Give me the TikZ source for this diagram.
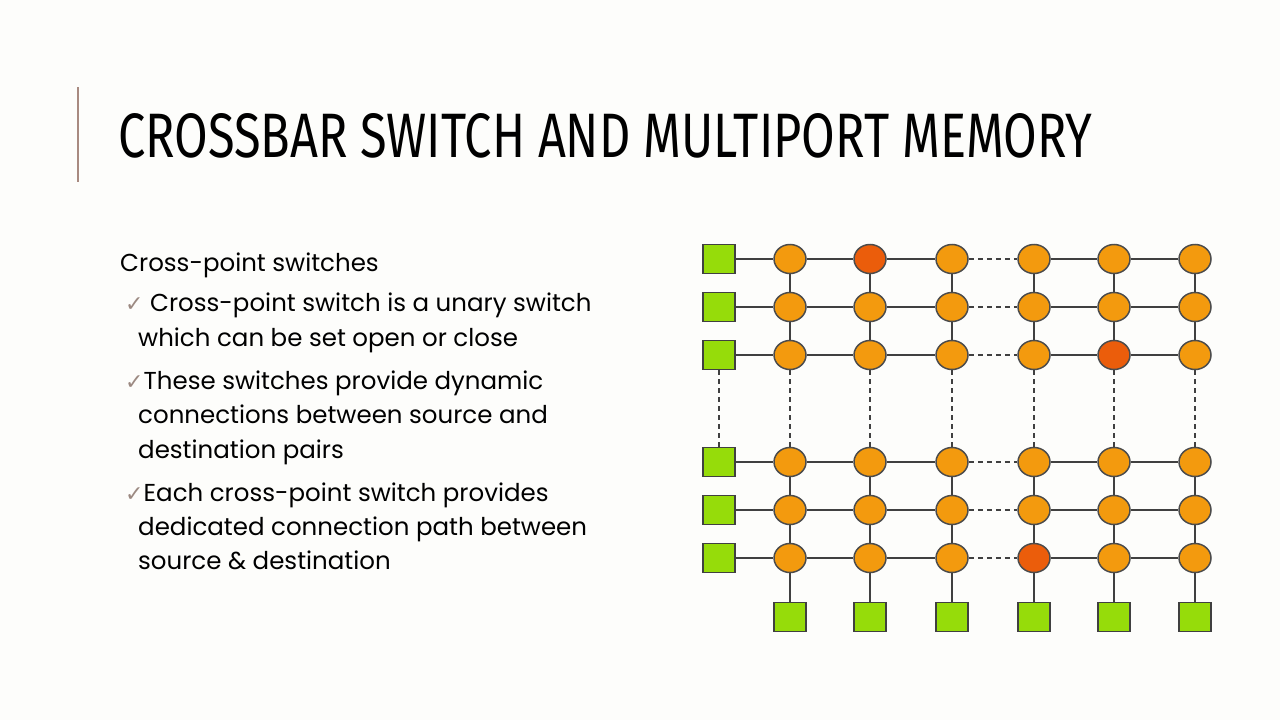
\documentclass[tikz,border=0pt]{standalone}
\usepackage{fontspec}
\usetikzlibrary{shapes.geometric}
\setmainfont{Poppins}
\newfontfamily\djv{DejaVu Sans}
\newfontfamily\ttl{Fira Sans}
\definecolor{bg}{HTML}{FDFDFB}
\definecolor{orn}{HTML}{F39A0E}
\definecolor{hot}{HTML}{EB5D0B}
\definecolor{grn}{HTML}{96DC0A}
\definecolor{chk}{HTML}{9C8A82}
\definecolor{bar}{HTML}{A88A80}
\newcommand{\ckm}{{\color{chk}\djv\fontsize{22}{24}\selectfont ✓}}
\begin{document}
\begin{tikzpicture}[x=1pt,y=-1pt,
  sw/.style={ellipse,draw=black!70,line width=1.5pt,fill=orn,minimum width=32pt,minimum height=29pt,inner sep=0pt},
  on/.style={sw,fill=hot},
  port/.style={rectangle,draw=black!75,line width=1.5pt,fill=grn,minimum width=32pt,minimum height=29pt,inner sep=0pt},
  wire/.style={draw=black!75,line width=1.7pt},
  dwire/.style={wire,dash pattern=on 5pt off 4pt},
  txt/.style={anchor=base west,inner sep=0pt,font=\fontsize{24.5}{28}\selectfont}]
\useasboundingbox[fill=bg] (0,0) rectangle (1280,720);
\draw[bar,line width=1.5pt] (78,87) -- (78,182);
\node[anchor=south west,inner sep=0pt] (title) at (118,158) {\resizebox{974pt}{44pt}{\ttl CROSSBAR SWITCH AND MULTIPORT MEMORY}};
\node[txt] (t0) at (120,271) {Cross-point switches};
\node[txt] (t1) at (125,311) {\ckm\ Cross-point switch is a unary switch};
\node[txt] (t2) at (138,346) {which can be set open or close};
\node[txt] (t3) at (125,389) {\ckm These switches provide dynamic};
\node[txt] (t4) at (138,423) {connections between source and};
\node[txt] (t5) at (138,458) {destination pairs};
\node[txt] (t6) at (125,501) {\ckm Each cross-point switch provides};
\node[txt] (t7) at (138,535) {dedicated connection path between};
\node[txt] (t8) at (138,569) {source \& destination};
\def\xs{{790,870,952,1034,1114,1195}}
\def\ys{{259,307,355,462,510,558}}
\foreach \r in {0,...,5}{
  \pgfmathsetmacro\yy{\ys[\r]}
  \node[port] (L\r) at (719,\yy) {};
  \foreach \c in {0,...,5}{
    \pgfmathsetmacro\xx{\xs[\c]}
    \pgfmathtruncatemacro\code{\r*10+\c}
    \def\st{sw}
    \ifnum\code=1 \def\st{on}\fi
    \ifnum\code=24 \def\st{on}\fi
    \ifnum\code=53 \def\st{on}\fi
    \node[\st] (n\r\c) at (\xx,\yy) {};
  }
}
\foreach \c in {0,...,5}{
  \pgfmathsetmacro\xx{\xs[\c]}
  \node[port] (B\c) at (\xx,617) {};
}
\foreach \r in {0,...,5}{
  \draw[wire] (L\r) -- (n\r0);
  \draw[wire] (n\r0) -- (n\r1);
  \draw[wire] (n\r1) -- (n\r2);
  \draw[dwire] (n\r2) -- (n\r3);
  \draw[wire] (n\r3) -- (n\r4);
  \draw[wire] (n\r4) -- (n\r5);
}
\foreach \c in {0,...,5}{
  \draw[wire] (n0\c) -- (n1\c);
  \draw[wire] (n1\c) -- (n2\c);
  \draw[dwire] (n2\c) -- (n3\c);
  \draw[wire] (n3\c) -- (n4\c);
  \draw[wire] (n4\c) -- (n5\c);
  \draw[wire] (n5\c) -- (B\c);
}
\draw[dwire] (L2) -- (L3);
\end{tikzpicture}
\end{document}
